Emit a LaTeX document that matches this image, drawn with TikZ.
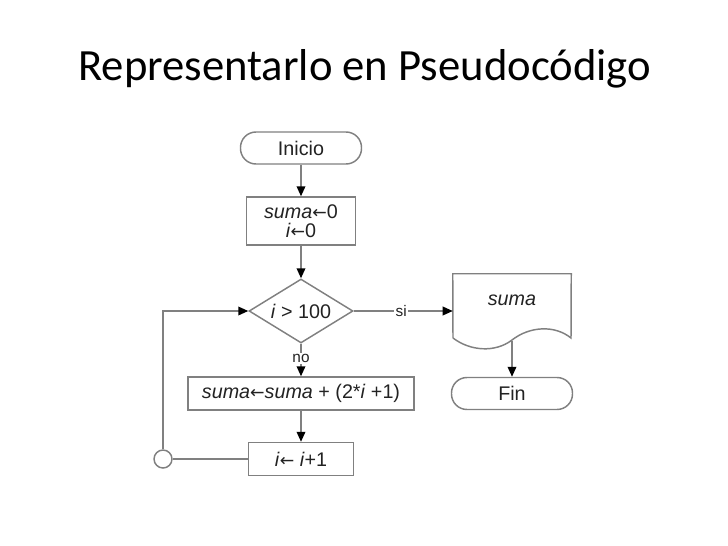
\documentclass[tikz,border=0pt]{standalone}
\usepackage{fontspec}
\setmainfont{Liberation Sans}
\newfontfamily\titlefont{Carlito}
\newfontfamily\arrfont{DejaVu Sans}
\newcommand\lar{{\arrfont\fontsize{13}{13}\selectfont ←}}
\usetikzlibrary{shapes.geometric,arrows.meta,calc}
\definecolor{linegray}{HTML}{808080}
\definecolor{txt}{HTML}{222222}
\begin{document}
\begin{tikzpicture}[x=0.75pt,y=-0.75pt,
  every node/.style={text=txt,font=\fontsize{14.8}{13.2}\selectfont},
  flow/.style={draw=linegray,line width=1.1pt},
  arr/.style={flow,-{Triangle[length=7.5pt,width=6.5pt,fill=black,color=black]}},
  terminal/.style={flow,rectangle,rounded corners=11.6pt,minimum width=90.75pt,minimum height=24pt,inner sep=0pt},
  procbox/.style={flow,rectangle,minimum height=24.75pt,inner sep=0pt},
  decision/.style={flow,diamond,aspect=1.625,minimum width=78pt,minimum height=48pt,inner sep=0pt},
  lbl/.style={fill=white,inner sep=1pt,font=\fontsize{11.5}{12}\selectfont}
]
\useasboundingbox (0,0) rectangle (728,546);
\node[anchor=base west,inner sep=0pt,font=\titlefont\fontsize{33.5}{40}\selectfont,text=black] (title) at (78,80) {Representarlo en Pseudocódigo};

\node[terminal] (inicio) at (301,148) {Inicio};
\node[procbox,minimum width=81.75pt,minimum height=36pt,align=center,font=\fontsize{14.8}{14.5}\selectfont] (init) at (301,221) {\textit{suma}\lar0\\\textit{i}\lar0};
\node[decision] (cond) at (301,311) {\textit{i} > 100};
\node[procbox,minimum width=169.5pt] (acc) at (301,393.5) {\textit{suma}\lar\textit{suma} + (2*\textit{i} +1)};
\node[procbox,minimum width=78.75pt] (inc) at (301,459) {\textit{i}\lar\ \textit{i}+1};
\node[flow,circle,minimum size=13.5pt,inner sep=0pt] (conn) at (163,459) {};
\node[minimum width=88.5pt,minimum height=48pt,inner sep=0pt] (doc) at (512,306) {};
\node at (512,300) {\textit{suma}};
\node[terminal] (fin) at (512,393.5) {Fin};

% document shape
\draw[flow] (453,338) -- (doc.north west) -- (doc.north east) -- (571,338)
  .. controls (555,325) and (530,326) .. (512,340)
  .. controls (495,353) and (470,351) .. (453,338);
\coordinate (docbot) at (512,341);

\draw[arr] (inicio) -- (init);
\draw[arr] (init) -- (cond);
\draw[arr] (cond) -- node[lbl,pos=0.45] (no) {no} (acc);
\draw[arr] (acc) -- (inc);
\draw[flow] (inc) -- (conn);
\draw[arr] (conn.north) |- (cond.west);
\draw[arr] (cond.east) -- node[lbl,pos=0.48] (si) {si} (cond.east -| doc.west);
\draw[arr] (docbot) -- (fin.north);
\end{tikzpicture}
\end{document}
